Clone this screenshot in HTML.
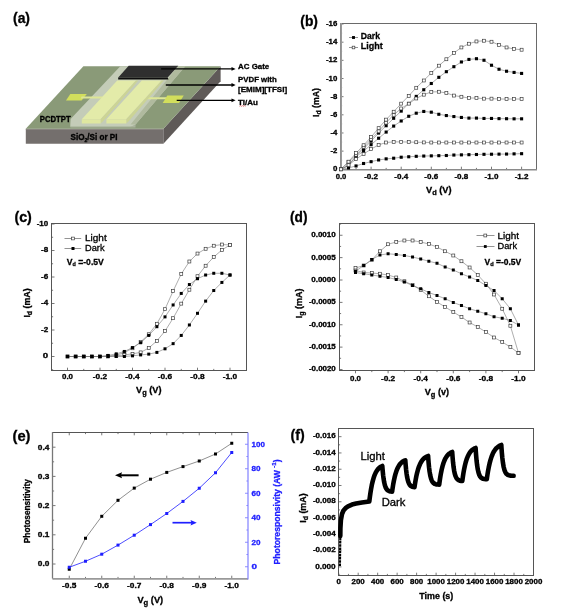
<!DOCTYPE html>
<html><head><meta charset="utf-8"><style>
html,body{margin:0;padding:0;background:#fff;}
text{stroke-width:0.3px;}
svg{display:block;font-family:"Liberation Sans",sans-serif;will-change:transform;}
</style></head><body>
<svg width="576" height="613" viewBox="0 0 576 613">
<rect width="576" height="613" fill="#fff"/>
<text x="13" y="22.8" font-size="14.2" font-weight="bold" fill="#000" stroke="#000" text-anchor="start" textLength="17" lengthAdjust="spacingAndGlyphs" >(a)</text>
<text x="300.3" y="26.2" font-size="14.2" font-weight="bold" fill="#000" stroke="#000" text-anchor="start" textLength="17.7" lengthAdjust="spacingAndGlyphs" >(b)</text>
<text x="14.4" y="222.2" font-size="14.2" font-weight="bold" fill="#000" stroke="#000" text-anchor="start" textLength="17.4" lengthAdjust="spacingAndGlyphs" >(c)</text>
<text x="290" y="221.7" font-size="14.2" font-weight="bold" fill="#000" stroke="#000" text-anchor="start" textLength="17.5" lengthAdjust="spacingAndGlyphs" >(d)</text>
<text x="12.5" y="440.5" font-size="14.2" font-weight="bold" fill="#000" stroke="#000" text-anchor="start" textLength="18" lengthAdjust="spacingAndGlyphs" >(e)</text>
<text x="290.5" y="440" font-size="14.2" font-weight="bold" fill="#000" stroke="#000" text-anchor="start" textLength="14.2" lengthAdjust="spacingAndGlyphs" >(f)</text>
<polygon points="25.8,128.75 163.4,128.75 163.4,143.75 25.8,143.75" fill="#746f6d" stroke="none" stroke-width="0" />
<polygon points="220.6,66.25 220.6,81.25 163.4,143.75 163.4,128.75" fill="#5f5a58" stroke="none" stroke-width="0" />
<line x1="25.8" y1="129.2" x2="163.4" y2="129.2" stroke="#9a9590" stroke-width="0.8" />
<polygon points="83.4,66.25 220.6,66.25 163.4,128.75 25.8,128.75" fill="#8a9a78" stroke="none" stroke-width="0" />
<polygon points="120.3,66.25 185.3,66.25 135.5,124.5 132.5,126.8 70.2,126.8 70.6,118.9" fill="#c4ccb8" stroke="none" stroke-width="0" />
<polygon points="178,66.25 185.3,66.25 135.5,124.5 130.5,124.5" fill="#b0ba9e" stroke="none" stroke-width="0" />
<polygon points="70.4,126.8 130.5,126.8 135.5,124.5 135.5,127.6 70.4,127.6" fill="#a9b29c" stroke="none" stroke-width="0" />
<polygon points="70.3,94 86.8,94 81.6,100.5 66,100.5" fill="#d2de5c" stroke="none" stroke-width="0" />
<polygon points="81.6,96.6 103,96.6 102,98.6 80.6,98.6" fill="#dde696" stroke="none" stroke-width="0" />
<polygon points="144,97.3 167.8,97.3 167,99.3 143,99.3" fill="#dde696" stroke="none" stroke-width="0" />
<polygon points="167.3,95.6 183.75,95.6 179,103 162.7,103" fill="#d2de5c" stroke="none" stroke-width="0" />
<polygon points="81.8,119.3 100.6,119.3 136,80.4 117.2,80.4" fill="#e3eba9" stroke="none" stroke-width="0" />
<polygon points="100.6,119.3 136,80.4 138.2,80.4 102.8,121.5 100.6,123.5" fill="#ccd495" stroke="none" stroke-width="0" />
<polygon points="81.8,119.3 100.6,119.3 100.6,123.5 81.8,123.5" fill="#dfe7a0" stroke="none" stroke-width="0" />
<polygon points="106.4,119.3 126.25,119.3 161.65,80.4 141.8,80.4" fill="#e3eba9" stroke="none" stroke-width="0" />
<polygon points="126.25,119.3 161.65,80.4 163.85,80.4 128.45,121.5 126.25,123.5" fill="#ccd495" stroke="none" stroke-width="0" />
<polygon points="106.4,119.3 126.25,119.3 126.25,123.5 106.4,123.5" fill="#dfe7a0" stroke="none" stroke-width="0" />
<polygon points="128.7,65.8 178.3,65.8 167.7,77.6 118.2,77.6" fill="#2f2f2f" stroke="none" stroke-width="0" />
<polygon points="118.2,77.6 167.7,77.6 168.5,79.6 118.2,79.6" fill="#0d0d0d" stroke="none" stroke-width="0" />
<text x="39.8" y="122" font-size="9.6" font-weight="bold" fill="#000" stroke="#000" text-anchor="start" textLength="30.8" lengthAdjust="spacingAndGlyphs" style="stroke-width:0.35px">PCDTPT</text>
<text x="70.6" y="140.1" font-size="9.6" font-weight="bold" fill="#000" stroke="#000" style="stroke-width:0.35px" textLength="46.9" lengthAdjust="spacingAndGlyphs">SiO<tspan font-size="6" dy="2">2</tspan><tspan dy="-2">/Si or PI</tspan></text>
<line x1="161.1" y1="68.9" x2="232" y2="68.9" stroke="#000" stroke-width="1.3" />
<polygon points="235.6,68.9 231.5,67 231.5,70.8" fill="#000" stroke="none" stroke-width="0" />
<line x1="165.8" y1="85" x2="232" y2="85" stroke="#000" stroke-width="1.3" />
<polygon points="235.6,85 231.5,83.1 231.5,86.9" fill="#000" stroke="none" stroke-width="0" />
<line x1="176.7" y1="100.3" x2="232" y2="100.3" stroke="#000" stroke-width="1.3" />
<polygon points="235.6,100.3 231.5,98.4 231.5,102.2" fill="#000" stroke="none" stroke-width="0" />
<text x="238.1" y="69.3" font-size="7.6" font-weight="bold" fill="#000" stroke="#000" text-anchor="start" textLength="31.1" lengthAdjust="spacingAndGlyphs" style="stroke-width:0.3px">AC Gate</text>
<text x="238.1" y="82.3" font-size="7.6" font-weight="bold" fill="#000" stroke="#000" text-anchor="start" textLength="38.6" lengthAdjust="spacingAndGlyphs" style="stroke-width:0.3px">PVDF with</text>
<text x="238.1" y="92.1" font-size="7.6" font-weight="bold" fill="#000" stroke="#000" text-anchor="start" textLength="49" lengthAdjust="spacingAndGlyphs" style="stroke-width:0.3px">[EMIM][TFSI]</text>
<text x="238.1" y="105.2" font-size="7.6" font-weight="bold" fill="#000" stroke="#000" text-anchor="start" textLength="19.9" lengthAdjust="spacingAndGlyphs" style="stroke-width:0.3px">Ti/Au</text>
<path d="M239.5,106.4 l1,-0.8 l1,0.8 l1,-0.8 l1,0.8 l1,-0.8 l1,0.8" fill="none" stroke="#e04040" stroke-width="0.6"/>
<line x1="341" y1="169.5" x2="341" y2="166.7" stroke="#555" stroke-width="0.8" />
<line x1="356.05" y1="169.5" x2="356.05" y2="167.9" stroke="#555" stroke-width="0.8" />
<line x1="371.1" y1="169.5" x2="371.1" y2="166.7" stroke="#555" stroke-width="0.8" />
<line x1="386.15" y1="169.5" x2="386.15" y2="167.9" stroke="#555" stroke-width="0.8" />
<line x1="401.2" y1="169.5" x2="401.2" y2="166.7" stroke="#555" stroke-width="0.8" />
<line x1="416.25" y1="169.5" x2="416.25" y2="167.9" stroke="#555" stroke-width="0.8" />
<line x1="431.3" y1="169.5" x2="431.3" y2="166.7" stroke="#555" stroke-width="0.8" />
<line x1="446.35" y1="169.5" x2="446.35" y2="167.9" stroke="#555" stroke-width="0.8" />
<line x1="461.4" y1="169.5" x2="461.4" y2="166.7" stroke="#555" stroke-width="0.8" />
<line x1="476.45" y1="169.5" x2="476.45" y2="167.9" stroke="#555" stroke-width="0.8" />
<line x1="491.5" y1="169.5" x2="491.5" y2="166.7" stroke="#555" stroke-width="0.8" />
<line x1="506.55" y1="169.5" x2="506.55" y2="167.9" stroke="#555" stroke-width="0.8" />
<line x1="521.6" y1="169.5" x2="521.6" y2="166.7" stroke="#555" stroke-width="0.8" />
<line x1="340.5" y1="169.3" x2="343.5" y2="169.3" stroke="#555" stroke-width="0.8" />
<line x1="340.5" y1="160.22" x2="342.1" y2="160.22" stroke="#555" stroke-width="0.8" />
<line x1="340.5" y1="151.14" x2="343.5" y2="151.14" stroke="#555" stroke-width="0.8" />
<line x1="340.5" y1="142.06" x2="342.1" y2="142.06" stroke="#555" stroke-width="0.8" />
<line x1="340.5" y1="132.98" x2="343.5" y2="132.98" stroke="#555" stroke-width="0.8" />
<line x1="340.5" y1="123.9" x2="342.1" y2="123.9" stroke="#555" stroke-width="0.8" />
<line x1="340.5" y1="114.82" x2="343.5" y2="114.82" stroke="#555" stroke-width="0.8" />
<line x1="340.5" y1="105.74" x2="342.1" y2="105.74" stroke="#555" stroke-width="0.8" />
<line x1="340.5" y1="96.66" x2="343.5" y2="96.66" stroke="#555" stroke-width="0.8" />
<line x1="340.5" y1="87.58" x2="342.1" y2="87.58" stroke="#555" stroke-width="0.8" />
<line x1="340.5" y1="78.5" x2="343.5" y2="78.5" stroke="#555" stroke-width="0.8" />
<line x1="340.5" y1="69.42" x2="342.1" y2="69.42" stroke="#555" stroke-width="0.8" />
<line x1="340.5" y1="60.34" x2="343.5" y2="60.34" stroke="#555" stroke-width="0.8" />
<line x1="340.5" y1="51.26" x2="342.1" y2="51.26" stroke="#555" stroke-width="0.8" />
<line x1="340.5" y1="42.18" x2="343.5" y2="42.18" stroke="#555" stroke-width="0.8" />
<line x1="340.5" y1="33.1" x2="342.1" y2="33.1" stroke="#555" stroke-width="0.8" />
<line x1="340.5" y1="24.02" x2="343.5" y2="24.02" stroke="#555" stroke-width="0.8" />
<rect x="340.5" y="23.5" width="196" height="146" fill="none" stroke="#6a6a6a" stroke-width="1"/>
<line x1="341.1" y1="23" x2="341.1" y2="170.2" stroke="#9a9a9a" stroke-width="1.8" />
<line x1="340.2" y1="169.8" x2="537" y2="169.8" stroke="#8a8a8a" stroke-width="1.5" />
<text x="341" y="178.6" font-size="7" font-weight="bold" fill="#000" stroke="#000" text-anchor="middle" textLength="10.6" lengthAdjust="spacingAndGlyphs" >0.0</text>
<text x="371.1" y="178.6" font-size="7" font-weight="bold" fill="#000" stroke="#000" text-anchor="middle" textLength="13.9" lengthAdjust="spacingAndGlyphs" >-0.2</text>
<text x="401.2" y="178.6" font-size="7" font-weight="bold" fill="#000" stroke="#000" text-anchor="middle" textLength="13.9" lengthAdjust="spacingAndGlyphs" >-0.4</text>
<text x="431.3" y="178.6" font-size="7" font-weight="bold" fill="#000" stroke="#000" text-anchor="middle" textLength="13.9" lengthAdjust="spacingAndGlyphs" >-0.6</text>
<text x="461.4" y="178.6" font-size="7" font-weight="bold" fill="#000" stroke="#000" text-anchor="middle" textLength="13.9" lengthAdjust="spacingAndGlyphs" >-0.8</text>
<text x="491.5" y="178.6" font-size="7" font-weight="bold" fill="#000" stroke="#000" text-anchor="middle" textLength="13.9" lengthAdjust="spacingAndGlyphs" >-1.0</text>
<text x="521.6" y="178.6" font-size="7" font-weight="bold" fill="#000" stroke="#000" text-anchor="middle" textLength="13.9" lengthAdjust="spacingAndGlyphs" >-1.2</text>
<text x="337.3" y="171.3" font-size="7" font-weight="bold" fill="#000" stroke="#000" text-anchor="end" textLength="4.4" lengthAdjust="spacingAndGlyphs" >0</text>
<text x="337.3" y="153.14" font-size="7" font-weight="bold" fill="#000" stroke="#000" text-anchor="end" textLength="6.9" lengthAdjust="spacingAndGlyphs" >-2</text>
<text x="337.3" y="134.98" font-size="7" font-weight="bold" fill="#000" stroke="#000" text-anchor="end" textLength="6.9" lengthAdjust="spacingAndGlyphs" >-4</text>
<text x="337.3" y="116.82" font-size="7" font-weight="bold" fill="#000" stroke="#000" text-anchor="end" textLength="6.9" lengthAdjust="spacingAndGlyphs" >-6</text>
<text x="337.3" y="98.66" font-size="7" font-weight="bold" fill="#000" stroke="#000" text-anchor="end" textLength="6.9" lengthAdjust="spacingAndGlyphs" >-8</text>
<text x="337.3" y="80.5" font-size="7" font-weight="bold" fill="#000" stroke="#000" text-anchor="end" textLength="11.3" lengthAdjust="spacingAndGlyphs" >-10</text>
<text x="337.3" y="62.34" font-size="7" font-weight="bold" fill="#000" stroke="#000" text-anchor="end" textLength="11.3" lengthAdjust="spacingAndGlyphs" >-12</text>
<text x="337.3" y="44.18" font-size="7" font-weight="bold" fill="#000" stroke="#000" text-anchor="end" textLength="11.3" lengthAdjust="spacingAndGlyphs" >-14</text>
<text x="337.3" y="26.02" font-size="7" font-weight="bold" fill="#000" stroke="#000" text-anchor="end" textLength="11.3" lengthAdjust="spacingAndGlyphs" >-16</text>
<text transform="translate(318.6,117) rotate(-90)" font-size="9.4" font-weight="bold" stroke="#000" textLength="29" lengthAdjust="spacingAndGlyphs">I<tspan font-size="7.4" dy="2.2">d</tspan><tspan dy="-2.2"> (mA)</tspan></text>
<text x="426" y="193.1" font-size="9.5" font-weight="bold" stroke="#000" textLength="25.6" lengthAdjust="spacingAndGlyphs">V<tspan font-size="7.6" dy="2.2">d</tspan><tspan dy="-2.2"> (V)</tspan></text>
<polyline points="341,169.3 348.52,165.21 356.05,159.13 363.57,154.05 371.1,149.14 378.62,144.87 386.15,142.51 393.68,141.88 401.2,141.88 408.73,142.06 416.25,142.24 423.77,142.42 431.3,142.51 438.82,142.51 446.35,142.51 453.88,142.51 461.4,142.51 468.93,142.51 476.45,142.51 483.98,142.51 491.5,142.51 499.02,142.51 506.55,142.51 514.08,142.51 521.6,142.51" fill="none" stroke="#777" stroke-width="0.6" />
<polyline points="341,169.3 348.52,167.94 356.05,165.94 363.57,163.49 371.1,161.67 378.62,159.95 386.15,158.86 393.68,158.22 401.2,157.22 408.73,156.77 416.25,156.32 423.77,156.04 431.3,155.86 438.82,155.68 446.35,155.5 453.88,155.04 461.4,154.86 468.93,154.68 476.45,154.5 483.98,154.32 491.5,154.23 499.02,154.14 506.55,154.05 514.08,153.86 521.6,153.68" fill="none" stroke="#777" stroke-width="0.6" />
<polyline points="341,169.3 348.52,162.04 356.05,154.77 363.57,147.05 371.1,139.34 378.62,131.35 386.15,122.63 393.68,114.82 401.2,108.46 408.73,103.65 416.25,98.48 423.77,94.66 431.3,91.94 438.82,91.76 446.35,92.94 453.88,95.57 461.4,96.75 468.93,98.02 476.45,98.02 483.98,98.66 491.5,98.66 499.02,99.02 506.55,99.02 514.08,99.02 521.6,99.02" fill="none" stroke="#777" stroke-width="0.6" />
<polyline points="341,169.3 348.52,165.49 356.05,156.5 363.57,151.14 371.1,144.69 378.62,138.25 386.15,132.07 393.68,126.08 401.2,120.99 408.73,116.27 416.25,113.19 423.77,111.46 431.3,112.19 438.82,114.28 446.35,115.55 453.88,116.55 461.4,117.45 468.93,118.09 476.45,118.09 483.98,118.45 491.5,118.45 499.02,118.63 506.55,118.72 514.08,118.82 521.6,118.82" fill="none" stroke="#777" stroke-width="0.6" />
<polyline points="341,169.3 348.52,161.67 356.05,153.14 363.57,145.24 371.1,137.07 378.62,128.17 386.15,119.63 393.68,111.73 401.2,103.65 408.73,95.84 416.25,87.76 423.77,80.5 431.3,72.96 438.82,65.7 446.35,59.25 453.88,52.99 461.4,47.45 468.93,43.72 476.45,41.45 483.98,40.73 491.5,41.73 499.02,44.99 506.55,47.45 514.08,48.99 521.6,49.72" fill="none" stroke="#777" stroke-width="0.6" />
<polyline points="341,169.3 348.52,165.21 356.05,155.68 363.57,148.96 371.1,141.15 378.62,133.07 386.15,125.72 393.68,118.27 401.2,111.1 408.73,103.47 416.25,96.39 423.77,89.76 431.3,83.49 438.82,77.32 446.35,71.69 453.88,66.7 461.4,61.97 468.93,59.43 476.45,58.71 483.98,60.25 491.5,65.24 499.02,69.24 506.55,71.24 514.08,72.42 521.6,73.42" fill="none" stroke="#777" stroke-width="0.6" />
<rect x="339.45" y="167.75" width="3.1" height="3.1" fill="#000"/>
<rect x="346.97" y="166.39" width="3.1" height="3.1" fill="#000"/>
<rect x="354.5" y="164.39" width="3.1" height="3.1" fill="#000"/>
<rect x="362.02" y="161.94" width="3.1" height="3.1" fill="#000"/>
<rect x="369.55" y="160.12" width="3.1" height="3.1" fill="#000"/>
<rect x="377.07" y="158.4" width="3.1" height="3.1" fill="#000"/>
<rect x="384.6" y="157.31" width="3.1" height="3.1" fill="#000"/>
<rect x="392.12" y="156.67" width="3.1" height="3.1" fill="#000"/>
<rect x="399.65" y="155.67" width="3.1" height="3.1" fill="#000"/>
<rect x="407.18" y="155.22" width="3.1" height="3.1" fill="#000"/>
<rect x="414.7" y="154.77" width="3.1" height="3.1" fill="#000"/>
<rect x="422.22" y="154.49" width="3.1" height="3.1" fill="#000"/>
<rect x="429.75" y="154.31" width="3.1" height="3.1" fill="#000"/>
<rect x="437.27" y="154.13" width="3.1" height="3.1" fill="#000"/>
<rect x="444.8" y="153.95" width="3.1" height="3.1" fill="#000"/>
<rect x="452.32" y="153.49" width="3.1" height="3.1" fill="#000"/>
<rect x="459.85" y="153.31" width="3.1" height="3.1" fill="#000"/>
<rect x="467.38" y="153.13" width="3.1" height="3.1" fill="#000"/>
<rect x="474.9" y="152.95" width="3.1" height="3.1" fill="#000"/>
<rect x="482.43" y="152.77" width="3.1" height="3.1" fill="#000"/>
<rect x="489.95" y="152.68" width="3.1" height="3.1" fill="#000"/>
<rect x="497.47" y="152.59" width="3.1" height="3.1" fill="#000"/>
<rect x="505" y="152.5" width="3.1" height="3.1" fill="#000"/>
<rect x="512.53" y="152.31" width="3.1" height="3.1" fill="#000"/>
<rect x="520.05" y="152.13" width="3.1" height="3.1" fill="#000"/>
<rect x="339.45" y="167.75" width="3.1" height="3.1" fill="#000"/>
<rect x="346.97" y="163.94" width="3.1" height="3.1" fill="#000"/>
<rect x="354.5" y="154.95" width="3.1" height="3.1" fill="#000"/>
<rect x="362.02" y="149.59" width="3.1" height="3.1" fill="#000"/>
<rect x="369.55" y="143.14" width="3.1" height="3.1" fill="#000"/>
<rect x="377.07" y="136.7" width="3.1" height="3.1" fill="#000"/>
<rect x="384.6" y="130.52" width="3.1" height="3.1" fill="#000"/>
<rect x="392.12" y="124.53" width="3.1" height="3.1" fill="#000"/>
<rect x="399.65" y="119.44" width="3.1" height="3.1" fill="#000"/>
<rect x="407.18" y="114.72" width="3.1" height="3.1" fill="#000"/>
<rect x="414.7" y="111.64" width="3.1" height="3.1" fill="#000"/>
<rect x="422.22" y="109.91" width="3.1" height="3.1" fill="#000"/>
<rect x="429.75" y="110.64" width="3.1" height="3.1" fill="#000"/>
<rect x="437.27" y="112.73" width="3.1" height="3.1" fill="#000"/>
<rect x="444.8" y="114" width="3.1" height="3.1" fill="#000"/>
<rect x="452.32" y="115" width="3.1" height="3.1" fill="#000"/>
<rect x="459.85" y="115.9" width="3.1" height="3.1" fill="#000"/>
<rect x="467.38" y="116.54" width="3.1" height="3.1" fill="#000"/>
<rect x="474.9" y="116.54" width="3.1" height="3.1" fill="#000"/>
<rect x="482.43" y="116.9" width="3.1" height="3.1" fill="#000"/>
<rect x="489.95" y="116.9" width="3.1" height="3.1" fill="#000"/>
<rect x="497.47" y="117.08" width="3.1" height="3.1" fill="#000"/>
<rect x="505" y="117.17" width="3.1" height="3.1" fill="#000"/>
<rect x="512.53" y="117.27" width="3.1" height="3.1" fill="#000"/>
<rect x="520.05" y="117.27" width="3.1" height="3.1" fill="#000"/>
<rect x="339.45" y="167.75" width="3.1" height="3.1" fill="#000"/>
<rect x="346.97" y="163.66" width="3.1" height="3.1" fill="#000"/>
<rect x="354.5" y="154.13" width="3.1" height="3.1" fill="#000"/>
<rect x="362.02" y="147.41" width="3.1" height="3.1" fill="#000"/>
<rect x="369.55" y="139.6" width="3.1" height="3.1" fill="#000"/>
<rect x="377.07" y="131.52" width="3.1" height="3.1" fill="#000"/>
<rect x="384.6" y="124.17" width="3.1" height="3.1" fill="#000"/>
<rect x="392.12" y="116.72" width="3.1" height="3.1" fill="#000"/>
<rect x="399.65" y="109.55" width="3.1" height="3.1" fill="#000"/>
<rect x="407.18" y="101.92" width="3.1" height="3.1" fill="#000"/>
<rect x="414.7" y="94.84" width="3.1" height="3.1" fill="#000"/>
<rect x="422.22" y="88.21" width="3.1" height="3.1" fill="#000"/>
<rect x="429.75" y="81.94" width="3.1" height="3.1" fill="#000"/>
<rect x="437.27" y="75.77" width="3.1" height="3.1" fill="#000"/>
<rect x="444.8" y="70.14" width="3.1" height="3.1" fill="#000"/>
<rect x="452.32" y="65.15" width="3.1" height="3.1" fill="#000"/>
<rect x="459.85" y="60.42" width="3.1" height="3.1" fill="#000"/>
<rect x="467.38" y="57.88" width="3.1" height="3.1" fill="#000"/>
<rect x="474.9" y="57.16" width="3.1" height="3.1" fill="#000"/>
<rect x="482.43" y="58.7" width="3.1" height="3.1" fill="#000"/>
<rect x="489.95" y="63.69" width="3.1" height="3.1" fill="#000"/>
<rect x="497.47" y="67.69" width="3.1" height="3.1" fill="#000"/>
<rect x="505" y="69.69" width="3.1" height="3.1" fill="#000"/>
<rect x="512.53" y="70.87" width="3.1" height="3.1" fill="#000"/>
<rect x="520.05" y="71.87" width="3.1" height="3.1" fill="#000"/>
<rect x="339.52" y="167.82" width="2.95" height="2.95" fill="#fff" stroke="#333" stroke-width="0.65"/>
<rect x="347.05" y="163.74" width="2.95" height="2.95" fill="#fff" stroke="#333" stroke-width="0.65"/>
<rect x="354.57" y="157.66" width="2.95" height="2.95" fill="#fff" stroke="#333" stroke-width="0.65"/>
<rect x="362.1" y="152.57" width="2.95" height="2.95" fill="#fff" stroke="#333" stroke-width="0.65"/>
<rect x="369.62" y="147.67" width="2.95" height="2.95" fill="#fff" stroke="#333" stroke-width="0.65"/>
<rect x="377.15" y="143.4" width="2.95" height="2.95" fill="#fff" stroke="#333" stroke-width="0.65"/>
<rect x="384.67" y="141.04" width="2.95" height="2.95" fill="#fff" stroke="#333" stroke-width="0.65"/>
<rect x="392.2" y="140.4" width="2.95" height="2.95" fill="#fff" stroke="#333" stroke-width="0.65"/>
<rect x="399.72" y="140.4" width="2.95" height="2.95" fill="#fff" stroke="#333" stroke-width="0.65"/>
<rect x="407.25" y="140.58" width="2.95" height="2.95" fill="#fff" stroke="#333" stroke-width="0.65"/>
<rect x="414.77" y="140.77" width="2.95" height="2.95" fill="#fff" stroke="#333" stroke-width="0.65"/>
<rect x="422.3" y="140.95" width="2.95" height="2.95" fill="#fff" stroke="#333" stroke-width="0.65"/>
<rect x="429.82" y="141.04" width="2.95" height="2.95" fill="#fff" stroke="#333" stroke-width="0.65"/>
<rect x="437.35" y="141.04" width="2.95" height="2.95" fill="#fff" stroke="#333" stroke-width="0.65"/>
<rect x="444.88" y="141.04" width="2.95" height="2.95" fill="#fff" stroke="#333" stroke-width="0.65"/>
<rect x="452.4" y="141.04" width="2.95" height="2.95" fill="#fff" stroke="#333" stroke-width="0.65"/>
<rect x="459.92" y="141.04" width="2.95" height="2.95" fill="#fff" stroke="#333" stroke-width="0.65"/>
<rect x="467.45" y="141.04" width="2.95" height="2.95" fill="#fff" stroke="#333" stroke-width="0.65"/>
<rect x="474.98" y="141.04" width="2.95" height="2.95" fill="#fff" stroke="#333" stroke-width="0.65"/>
<rect x="482.5" y="141.04" width="2.95" height="2.95" fill="#fff" stroke="#333" stroke-width="0.65"/>
<rect x="490.02" y="141.04" width="2.95" height="2.95" fill="#fff" stroke="#333" stroke-width="0.65"/>
<rect x="497.55" y="141.04" width="2.95" height="2.95" fill="#fff" stroke="#333" stroke-width="0.65"/>
<rect x="505.07" y="141.04" width="2.95" height="2.95" fill="#fff" stroke="#333" stroke-width="0.65"/>
<rect x="512.6" y="141.04" width="2.95" height="2.95" fill="#fff" stroke="#333" stroke-width="0.65"/>
<rect x="520.13" y="141.04" width="2.95" height="2.95" fill="#fff" stroke="#333" stroke-width="0.65"/>
<rect x="339.52" y="167.82" width="2.95" height="2.95" fill="#fff" stroke="#333" stroke-width="0.65"/>
<rect x="347.05" y="160.56" width="2.95" height="2.95" fill="#fff" stroke="#333" stroke-width="0.65"/>
<rect x="354.57" y="153.3" width="2.95" height="2.95" fill="#fff" stroke="#333" stroke-width="0.65"/>
<rect x="362.1" y="145.58" width="2.95" height="2.95" fill="#fff" stroke="#333" stroke-width="0.65"/>
<rect x="369.62" y="137.86" width="2.95" height="2.95" fill="#fff" stroke="#333" stroke-width="0.65"/>
<rect x="377.15" y="129.87" width="2.95" height="2.95" fill="#fff" stroke="#333" stroke-width="0.65"/>
<rect x="384.67" y="121.15" width="2.95" height="2.95" fill="#fff" stroke="#333" stroke-width="0.65"/>
<rect x="392.2" y="113.35" width="2.95" height="2.95" fill="#fff" stroke="#333" stroke-width="0.65"/>
<rect x="399.72" y="106.99" width="2.95" height="2.95" fill="#fff" stroke="#333" stroke-width="0.65"/>
<rect x="407.25" y="102.18" width="2.95" height="2.95" fill="#fff" stroke="#333" stroke-width="0.65"/>
<rect x="414.77" y="97" width="2.95" height="2.95" fill="#fff" stroke="#333" stroke-width="0.65"/>
<rect x="422.3" y="93.19" width="2.95" height="2.95" fill="#fff" stroke="#333" stroke-width="0.65"/>
<rect x="429.82" y="90.46" width="2.95" height="2.95" fill="#fff" stroke="#333" stroke-width="0.65"/>
<rect x="437.35" y="90.28" width="2.95" height="2.95" fill="#fff" stroke="#333" stroke-width="0.65"/>
<rect x="444.88" y="91.46" width="2.95" height="2.95" fill="#fff" stroke="#333" stroke-width="0.65"/>
<rect x="452.4" y="94.1" width="2.95" height="2.95" fill="#fff" stroke="#333" stroke-width="0.65"/>
<rect x="459.92" y="95.28" width="2.95" height="2.95" fill="#fff" stroke="#333" stroke-width="0.65"/>
<rect x="467.45" y="96.55" width="2.95" height="2.95" fill="#fff" stroke="#333" stroke-width="0.65"/>
<rect x="474.98" y="96.55" width="2.95" height="2.95" fill="#fff" stroke="#333" stroke-width="0.65"/>
<rect x="482.5" y="97.18" width="2.95" height="2.95" fill="#fff" stroke="#333" stroke-width="0.65"/>
<rect x="490.02" y="97.18" width="2.95" height="2.95" fill="#fff" stroke="#333" stroke-width="0.65"/>
<rect x="497.55" y="97.55" width="2.95" height="2.95" fill="#fff" stroke="#333" stroke-width="0.65"/>
<rect x="505.07" y="97.55" width="2.95" height="2.95" fill="#fff" stroke="#333" stroke-width="0.65"/>
<rect x="512.6" y="97.55" width="2.95" height="2.95" fill="#fff" stroke="#333" stroke-width="0.65"/>
<rect x="520.13" y="97.55" width="2.95" height="2.95" fill="#fff" stroke="#333" stroke-width="0.65"/>
<rect x="339.52" y="167.82" width="2.95" height="2.95" fill="#fff" stroke="#333" stroke-width="0.65"/>
<rect x="347.05" y="160.2" width="2.95" height="2.95" fill="#fff" stroke="#333" stroke-width="0.65"/>
<rect x="354.57" y="151.66" width="2.95" height="2.95" fill="#fff" stroke="#333" stroke-width="0.65"/>
<rect x="362.1" y="143.76" width="2.95" height="2.95" fill="#fff" stroke="#333" stroke-width="0.65"/>
<rect x="369.62" y="135.59" width="2.95" height="2.95" fill="#fff" stroke="#333" stroke-width="0.65"/>
<rect x="377.15" y="126.69" width="2.95" height="2.95" fill="#fff" stroke="#333" stroke-width="0.65"/>
<rect x="384.67" y="118.16" width="2.95" height="2.95" fill="#fff" stroke="#333" stroke-width="0.65"/>
<rect x="392.2" y="110.26" width="2.95" height="2.95" fill="#fff" stroke="#333" stroke-width="0.65"/>
<rect x="399.72" y="102.18" width="2.95" height="2.95" fill="#fff" stroke="#333" stroke-width="0.65"/>
<rect x="407.25" y="94.37" width="2.95" height="2.95" fill="#fff" stroke="#333" stroke-width="0.65"/>
<rect x="414.77" y="86.29" width="2.95" height="2.95" fill="#fff" stroke="#333" stroke-width="0.65"/>
<rect x="422.3" y="79.02" width="2.95" height="2.95" fill="#fff" stroke="#333" stroke-width="0.65"/>
<rect x="429.82" y="71.49" width="2.95" height="2.95" fill="#fff" stroke="#333" stroke-width="0.65"/>
<rect x="437.35" y="64.22" width="2.95" height="2.95" fill="#fff" stroke="#333" stroke-width="0.65"/>
<rect x="444.88" y="57.78" width="2.95" height="2.95" fill="#fff" stroke="#333" stroke-width="0.65"/>
<rect x="452.4" y="51.51" width="2.95" height="2.95" fill="#fff" stroke="#333" stroke-width="0.65"/>
<rect x="459.92" y="45.97" width="2.95" height="2.95" fill="#fff" stroke="#333" stroke-width="0.65"/>
<rect x="467.45" y="42.25" width="2.95" height="2.95" fill="#fff" stroke="#333" stroke-width="0.65"/>
<rect x="474.98" y="39.98" width="2.95" height="2.95" fill="#fff" stroke="#333" stroke-width="0.65"/>
<rect x="482.5" y="39.25" width="2.95" height="2.95" fill="#fff" stroke="#333" stroke-width="0.65"/>
<rect x="490.02" y="40.25" width="2.95" height="2.95" fill="#fff" stroke="#333" stroke-width="0.65"/>
<rect x="497.55" y="43.52" width="2.95" height="2.95" fill="#fff" stroke="#333" stroke-width="0.65"/>
<rect x="505.07" y="45.97" width="2.95" height="2.95" fill="#fff" stroke="#333" stroke-width="0.65"/>
<rect x="512.6" y="47.52" width="2.95" height="2.95" fill="#fff" stroke="#333" stroke-width="0.65"/>
<rect x="520.13" y="48.24" width="2.95" height="2.95" fill="#fff" stroke="#333" stroke-width="0.65"/>
<line x1="349" y1="37.5" x2="358" y2="37.5" stroke="#666" stroke-width="0.7" />
<rect x="352.05" y="36.05" width="2.9" height="2.9" fill="#000"/>
<line x1="349" y1="47.5" x2="358" y2="47.5" stroke="#666" stroke-width="0.7" />
<rect x="352.18" y="46.18" width="2.65" height="2.65" fill="#fff" stroke="#333" stroke-width="0.65"/>
<text x="360.8" y="39.2" font-size="9.8" font-weight="bold" fill="#000" stroke="#000" text-anchor="start" textLength="19.2" lengthAdjust="spacingAndGlyphs" >Dark</text>
<text x="360.8" y="49" font-size="9.8" font-weight="bold" fill="#000" stroke="#000" text-anchor="start" textLength="22" lengthAdjust="spacingAndGlyphs" >Light</text>
<line x1="67.5" y1="370.5" x2="67.5" y2="367.7" stroke="#555" stroke-width="0.8" />
<line x1="83.75" y1="370.5" x2="83.75" y2="368.9" stroke="#555" stroke-width="0.8" />
<line x1="100" y1="370.5" x2="100" y2="367.7" stroke="#555" stroke-width="0.8" />
<line x1="116.25" y1="370.5" x2="116.25" y2="368.9" stroke="#555" stroke-width="0.8" />
<line x1="132.5" y1="370.5" x2="132.5" y2="367.7" stroke="#555" stroke-width="0.8" />
<line x1="148.75" y1="370.5" x2="148.75" y2="368.9" stroke="#555" stroke-width="0.8" />
<line x1="165" y1="370.5" x2="165" y2="367.7" stroke="#555" stroke-width="0.8" />
<line x1="181.25" y1="370.5" x2="181.25" y2="368.9" stroke="#555" stroke-width="0.8" />
<line x1="197.5" y1="370.5" x2="197.5" y2="367.7" stroke="#555" stroke-width="0.8" />
<line x1="213.75" y1="370.5" x2="213.75" y2="368.9" stroke="#555" stroke-width="0.8" />
<line x1="230" y1="370.5" x2="230" y2="367.7" stroke="#555" stroke-width="0.8" />
<line x1="51.5" y1="369.75" x2="53.1" y2="369.75" stroke="#555" stroke-width="0.8" />
<line x1="51.5" y1="356.5" x2="54.5" y2="356.5" stroke="#555" stroke-width="0.8" />
<line x1="51.5" y1="343.25" x2="53.1" y2="343.25" stroke="#555" stroke-width="0.8" />
<line x1="51.5" y1="330" x2="54.5" y2="330" stroke="#555" stroke-width="0.8" />
<line x1="51.5" y1="316.75" x2="53.1" y2="316.75" stroke="#555" stroke-width="0.8" />
<line x1="51.5" y1="303.5" x2="54.5" y2="303.5" stroke="#555" stroke-width="0.8" />
<line x1="51.5" y1="290.25" x2="53.1" y2="290.25" stroke="#555" stroke-width="0.8" />
<line x1="51.5" y1="277" x2="54.5" y2="277" stroke="#555" stroke-width="0.8" />
<line x1="51.5" y1="263.75" x2="53.1" y2="263.75" stroke="#555" stroke-width="0.8" />
<line x1="51.5" y1="250.5" x2="54.5" y2="250.5" stroke="#555" stroke-width="0.8" />
<line x1="51.5" y1="237.25" x2="53.1" y2="237.25" stroke="#555" stroke-width="0.8" />
<line x1="51.5" y1="224" x2="54.5" y2="224" stroke="#555" stroke-width="0.8" />
<rect x="51.5" y="223.5" width="195" height="147" fill="none" stroke="#555" stroke-width="1"/>
<text x="67.5" y="378.9" font-size="7" font-weight="bold" fill="#000" stroke="#000" text-anchor="middle" textLength="11" lengthAdjust="spacingAndGlyphs" >0.0</text>
<text x="100" y="378.9" font-size="7" font-weight="bold" fill="#000" stroke="#000" text-anchor="middle" textLength="14.3" lengthAdjust="spacingAndGlyphs" >-0.2</text>
<text x="132.5" y="378.9" font-size="7" font-weight="bold" fill="#000" stroke="#000" text-anchor="middle" textLength="14.3" lengthAdjust="spacingAndGlyphs" >-0.4</text>
<text x="165" y="378.9" font-size="7" font-weight="bold" fill="#000" stroke="#000" text-anchor="middle" textLength="14.3" lengthAdjust="spacingAndGlyphs" >-0.6</text>
<text x="197.5" y="378.9" font-size="7" font-weight="bold" fill="#000" stroke="#000" text-anchor="middle" textLength="14.3" lengthAdjust="spacingAndGlyphs" >-0.8</text>
<text x="230" y="378.9" font-size="7" font-weight="bold" fill="#000" stroke="#000" text-anchor="middle" textLength="14.3" lengthAdjust="spacingAndGlyphs" >-1.0</text>
<text x="48.2" y="358" font-size="7" font-weight="bold" fill="#000" stroke="#000" text-anchor="end" textLength="5.4" lengthAdjust="spacingAndGlyphs" >0</text>
<text x="48.2" y="331.5" font-size="7" font-weight="bold" fill="#000" stroke="#000" text-anchor="end" textLength="7.2" lengthAdjust="spacingAndGlyphs" >-2</text>
<text x="48.2" y="305" font-size="7" font-weight="bold" fill="#000" stroke="#000" text-anchor="end" textLength="7.2" lengthAdjust="spacingAndGlyphs" >-4</text>
<text x="48.2" y="278.5" font-size="7" font-weight="bold" fill="#000" stroke="#000" text-anchor="end" textLength="7.2" lengthAdjust="spacingAndGlyphs" >-6</text>
<text x="48.2" y="252" font-size="7" font-weight="bold" fill="#000" stroke="#000" text-anchor="end" textLength="7.2" lengthAdjust="spacingAndGlyphs" >-8</text>
<text x="48.2" y="225.5" font-size="7" font-weight="bold" fill="#000" stroke="#000" text-anchor="end" textLength="11.5" lengthAdjust="spacingAndGlyphs" >-10</text>
<text transform="translate(29.6,317.6) rotate(-90)" font-size="9.4" font-weight="bold" stroke="#000" textLength="29.3" lengthAdjust="spacingAndGlyphs">I<tspan font-size="7.4" dy="2.2">d</tspan><tspan dy="-2.2"> (mA)</tspan></text>
<text x="136" y="392.7" font-size="9.5" font-weight="bold" stroke="#000" textLength="25.5" lengthAdjust="spacingAndGlyphs">V<tspan font-size="7.6" dy="2.2">g</tspan><tspan dy="-2.2"> (V)</tspan></text>
<polyline points="67.5,356.5 75.62,356.5 83.75,356.5 91.88,356.5 100,356.5 108.12,356.1 116.25,355.18 124.38,352.52 132.5,348.29 140.62,341.93 148.75,334.24 156.88,323.77 165,309.2 173.12,291.05 181.25,273.95 189.38,261.5 197.5,253.55 205.63,248.78 213.75,245.73 221.88,244.54 230,244.94" fill="none" stroke="#777" stroke-width="0.6" />
<polyline points="67.5,356.5 75.62,356.5 83.75,356.5 91.88,356.5 100,356.5 108.12,355.44 116.25,353.85 124.38,351.46 132.5,347.62 140.62,342.72 148.75,335.43 156.88,326.69 165,316.88 173.12,304.96 181.25,293.43 189.38,284.55 197.5,278.72 205.63,275.01 213.75,273.29 221.88,273.29 230,275.01" fill="none" stroke="#777" stroke-width="0.6" />
<polyline points="67.5,356.5 75.62,356.5 83.75,356.5 91.88,356.5 100,356.5 108.12,356.5 116.25,355.84 124.38,354.91 132.5,353.85 140.62,352.39 148.75,348.02 156.88,340.87 165,331.06 173.12,318.21 181.25,303.63 189.38,289.72 197.5,276.2 205.63,265.74 213.75,256.99 221.88,249.97 230,244.94" fill="none" stroke="#777" stroke-width="0.6" />
<polyline points="67.5,356.5 75.62,356.5 83.75,356.5 91.88,356.5 100,356.5 108.12,356.5 116.25,356.5 124.38,356.5 132.5,355.84 140.62,354.91 148.75,354.12 156.88,352.39 165,348.81 173.12,343.65 181.25,335.43 189.38,324.96 197.5,313.31 205.63,301.12 213.75,290.51 221.88,282.43 230,275.01" fill="none" stroke="#777" stroke-width="0.6" />
<rect x="66.03" y="355.02" width="2.95" height="2.95" fill="#fff" stroke="#333" stroke-width="0.65"/>
<rect x="74.15" y="355.02" width="2.95" height="2.95" fill="#fff" stroke="#333" stroke-width="0.65"/>
<rect x="82.28" y="355.02" width="2.95" height="2.95" fill="#fff" stroke="#333" stroke-width="0.65"/>
<rect x="90.4" y="355.02" width="2.95" height="2.95" fill="#fff" stroke="#333" stroke-width="0.65"/>
<rect x="98.53" y="355.02" width="2.95" height="2.95" fill="#fff" stroke="#333" stroke-width="0.65"/>
<rect x="106.65" y="354.63" width="2.95" height="2.95" fill="#fff" stroke="#333" stroke-width="0.65"/>
<rect x="114.78" y="353.7" width="2.95" height="2.95" fill="#fff" stroke="#333" stroke-width="0.65"/>
<rect x="122.9" y="351.05" width="2.95" height="2.95" fill="#fff" stroke="#333" stroke-width="0.65"/>
<rect x="131.02" y="346.81" width="2.95" height="2.95" fill="#fff" stroke="#333" stroke-width="0.65"/>
<rect x="139.15" y="340.45" width="2.95" height="2.95" fill="#fff" stroke="#333" stroke-width="0.65"/>
<rect x="147.27" y="332.76" width="2.95" height="2.95" fill="#fff" stroke="#333" stroke-width="0.65"/>
<rect x="155.4" y="322.3" width="2.95" height="2.95" fill="#fff" stroke="#333" stroke-width="0.65"/>
<rect x="163.52" y="307.72" width="2.95" height="2.95" fill="#fff" stroke="#333" stroke-width="0.65"/>
<rect x="171.65" y="289.57" width="2.95" height="2.95" fill="#fff" stroke="#333" stroke-width="0.65"/>
<rect x="179.77" y="272.48" width="2.95" height="2.95" fill="#fff" stroke="#333" stroke-width="0.65"/>
<rect x="187.9" y="260.02" width="2.95" height="2.95" fill="#fff" stroke="#333" stroke-width="0.65"/>
<rect x="196.02" y="252.07" width="2.95" height="2.95" fill="#fff" stroke="#333" stroke-width="0.65"/>
<rect x="204.15" y="247.3" width="2.95" height="2.95" fill="#fff" stroke="#333" stroke-width="0.65"/>
<rect x="212.27" y="244.25" width="2.95" height="2.95" fill="#fff" stroke="#333" stroke-width="0.65"/>
<rect x="220.4" y="243.06" width="2.95" height="2.95" fill="#fff" stroke="#333" stroke-width="0.65"/>
<rect x="228.52" y="243.46" width="2.95" height="2.95" fill="#fff" stroke="#333" stroke-width="0.65"/>
<rect x="66.03" y="355.02" width="2.95" height="2.95" fill="#fff" stroke="#333" stroke-width="0.65"/>
<rect x="74.15" y="355.02" width="2.95" height="2.95" fill="#fff" stroke="#333" stroke-width="0.65"/>
<rect x="82.28" y="355.02" width="2.95" height="2.95" fill="#fff" stroke="#333" stroke-width="0.65"/>
<rect x="90.4" y="355.02" width="2.95" height="2.95" fill="#fff" stroke="#333" stroke-width="0.65"/>
<rect x="98.53" y="355.02" width="2.95" height="2.95" fill="#fff" stroke="#333" stroke-width="0.65"/>
<rect x="106.65" y="355.02" width="2.95" height="2.95" fill="#fff" stroke="#333" stroke-width="0.65"/>
<rect x="114.78" y="354.36" width="2.95" height="2.95" fill="#fff" stroke="#333" stroke-width="0.65"/>
<rect x="122.9" y="353.44" width="2.95" height="2.95" fill="#fff" stroke="#333" stroke-width="0.65"/>
<rect x="131.02" y="352.38" width="2.95" height="2.95" fill="#fff" stroke="#333" stroke-width="0.65"/>
<rect x="139.15" y="350.92" width="2.95" height="2.95" fill="#fff" stroke="#333" stroke-width="0.65"/>
<rect x="147.27" y="346.54" width="2.95" height="2.95" fill="#fff" stroke="#333" stroke-width="0.65"/>
<rect x="155.4" y="339.39" width="2.95" height="2.95" fill="#fff" stroke="#333" stroke-width="0.65"/>
<rect x="163.52" y="329.58" width="2.95" height="2.95" fill="#fff" stroke="#333" stroke-width="0.65"/>
<rect x="171.65" y="316.73" width="2.95" height="2.95" fill="#fff" stroke="#333" stroke-width="0.65"/>
<rect x="179.77" y="302.16" width="2.95" height="2.95" fill="#fff" stroke="#333" stroke-width="0.65"/>
<rect x="187.9" y="288.25" width="2.95" height="2.95" fill="#fff" stroke="#333" stroke-width="0.65"/>
<rect x="196.02" y="274.73" width="2.95" height="2.95" fill="#fff" stroke="#333" stroke-width="0.65"/>
<rect x="204.15" y="264.26" width="2.95" height="2.95" fill="#fff" stroke="#333" stroke-width="0.65"/>
<rect x="212.27" y="255.52" width="2.95" height="2.95" fill="#fff" stroke="#333" stroke-width="0.65"/>
<rect x="220.4" y="248.5" width="2.95" height="2.95" fill="#fff" stroke="#333" stroke-width="0.65"/>
<rect x="228.52" y="243.46" width="2.95" height="2.95" fill="#fff" stroke="#333" stroke-width="0.65"/>
<rect x="66" y="355" width="3" height="3" fill="#000"/>
<rect x="74.12" y="355" width="3" height="3" fill="#000"/>
<rect x="82.25" y="355" width="3" height="3" fill="#000"/>
<rect x="90.38" y="355" width="3" height="3" fill="#000"/>
<rect x="98.5" y="355" width="3" height="3" fill="#000"/>
<rect x="106.62" y="353.94" width="3" height="3" fill="#000"/>
<rect x="114.75" y="352.35" width="3" height="3" fill="#000"/>
<rect x="122.88" y="349.96" width="3" height="3" fill="#000"/>
<rect x="131" y="346.12" width="3" height="3" fill="#000"/>
<rect x="139.12" y="341.22" width="3" height="3" fill="#000"/>
<rect x="147.25" y="333.93" width="3" height="3" fill="#000"/>
<rect x="155.38" y="325.19" width="3" height="3" fill="#000"/>
<rect x="163.5" y="315.38" width="3" height="3" fill="#000"/>
<rect x="171.62" y="303.46" width="3" height="3" fill="#000"/>
<rect x="179.75" y="291.93" width="3" height="3" fill="#000"/>
<rect x="187.88" y="283.05" width="3" height="3" fill="#000"/>
<rect x="196" y="277.22" width="3" height="3" fill="#000"/>
<rect x="204.13" y="273.51" width="3" height="3" fill="#000"/>
<rect x="212.25" y="271.79" width="3" height="3" fill="#000"/>
<rect x="220.38" y="271.79" width="3" height="3" fill="#000"/>
<rect x="228.5" y="273.51" width="3" height="3" fill="#000"/>
<rect x="66" y="355" width="3" height="3" fill="#000"/>
<rect x="74.12" y="355" width="3" height="3" fill="#000"/>
<rect x="82.25" y="355" width="3" height="3" fill="#000"/>
<rect x="90.38" y="355" width="3" height="3" fill="#000"/>
<rect x="98.5" y="355" width="3" height="3" fill="#000"/>
<rect x="106.62" y="355" width="3" height="3" fill="#000"/>
<rect x="114.75" y="355" width="3" height="3" fill="#000"/>
<rect x="122.88" y="355" width="3" height="3" fill="#000"/>
<rect x="131" y="354.34" width="3" height="3" fill="#000"/>
<rect x="139.12" y="353.41" width="3" height="3" fill="#000"/>
<rect x="147.25" y="352.62" width="3" height="3" fill="#000"/>
<rect x="155.38" y="350.89" width="3" height="3" fill="#000"/>
<rect x="163.5" y="347.31" width="3" height="3" fill="#000"/>
<rect x="171.62" y="342.15" width="3" height="3" fill="#000"/>
<rect x="179.75" y="333.93" width="3" height="3" fill="#000"/>
<rect x="187.88" y="323.46" width="3" height="3" fill="#000"/>
<rect x="196" y="311.81" width="3" height="3" fill="#000"/>
<rect x="204.13" y="299.62" width="3" height="3" fill="#000"/>
<rect x="212.25" y="289.01" width="3" height="3" fill="#000"/>
<rect x="220.38" y="280.93" width="3" height="3" fill="#000"/>
<rect x="228.5" y="273.51" width="3" height="3" fill="#000"/>
<line x1="64.5" y1="238.5" x2="81.2" y2="238.5" stroke="#666" stroke-width="0.7" />
<rect x="71.62" y="237.12" width="2.75" height="2.75" fill="#fff" stroke="#333" stroke-width="0.65"/>
<line x1="64.5" y1="248.5" x2="81.2" y2="248.5" stroke="#666" stroke-width="0.7" />
<rect x="71.5" y="247" width="3" height="3" fill="#000"/>
<text x="85" y="241.3" font-size="9.2" font-weight="normal" fill="#000" stroke="#000" text-anchor="start" textLength="21.7" lengthAdjust="spacingAndGlyphs" >Light</text>
<text x="85" y="251.3" font-size="9.2" font-weight="normal" fill="#000" stroke="#000" text-anchor="start" textLength="19.5" lengthAdjust="spacingAndGlyphs" >Dark</text>
<text x="66.8" y="264.8" font-size="9.6" font-weight="bold" stroke="#000" textLength="37" lengthAdjust="spacingAndGlyphs">V<tspan font-size="6" dy="1.5">d</tspan><tspan dy="-1.5"> =-0.5V</tspan></text>
<line x1="355.5" y1="370.5" x2="355.5" y2="373.3" stroke="#555" stroke-width="0.8" />
<line x1="371.8" y1="370.5" x2="371.8" y2="372.1" stroke="#555" stroke-width="0.8" />
<line x1="388.1" y1="370.5" x2="388.1" y2="373.3" stroke="#555" stroke-width="0.8" />
<line x1="404.4" y1="370.5" x2="404.4" y2="372.1" stroke="#555" stroke-width="0.8" />
<line x1="420.7" y1="370.5" x2="420.7" y2="373.3" stroke="#555" stroke-width="0.8" />
<line x1="437" y1="370.5" x2="437" y2="372.1" stroke="#555" stroke-width="0.8" />
<line x1="453.3" y1="370.5" x2="453.3" y2="373.3" stroke="#555" stroke-width="0.8" />
<line x1="469.6" y1="370.5" x2="469.6" y2="372.1" stroke="#555" stroke-width="0.8" />
<line x1="485.9" y1="370.5" x2="485.9" y2="373.3" stroke="#555" stroke-width="0.8" />
<line x1="502.2" y1="370.5" x2="502.2" y2="372.1" stroke="#555" stroke-width="0.8" />
<line x1="518.5" y1="370.5" x2="518.5" y2="373.3" stroke="#555" stroke-width="0.8" />
<line x1="339.5" y1="369.5" x2="342.5" y2="369.5" stroke="#555" stroke-width="0.8" />
<line x1="339.5" y1="358.31" x2="341.1" y2="358.31" stroke="#555" stroke-width="0.8" />
<line x1="339.5" y1="347.12" x2="342.5" y2="347.12" stroke="#555" stroke-width="0.8" />
<line x1="339.5" y1="335.94" x2="341.1" y2="335.94" stroke="#555" stroke-width="0.8" />
<line x1="339.5" y1="324.75" x2="342.5" y2="324.75" stroke="#555" stroke-width="0.8" />
<line x1="339.5" y1="313.56" x2="341.1" y2="313.56" stroke="#555" stroke-width="0.8" />
<line x1="339.5" y1="302.38" x2="342.5" y2="302.38" stroke="#555" stroke-width="0.8" />
<line x1="339.5" y1="291.19" x2="341.1" y2="291.19" stroke="#555" stroke-width="0.8" />
<line x1="339.5" y1="280" x2="342.5" y2="280" stroke="#555" stroke-width="0.8" />
<line x1="339.5" y1="268.81" x2="341.1" y2="268.81" stroke="#555" stroke-width="0.8" />
<line x1="339.5" y1="257.62" x2="342.5" y2="257.62" stroke="#555" stroke-width="0.8" />
<line x1="339.5" y1="246.44" x2="341.1" y2="246.44" stroke="#555" stroke-width="0.8" />
<line x1="339.5" y1="235.25" x2="342.5" y2="235.25" stroke="#555" stroke-width="0.8" />
<line x1="339.5" y1="224.06" x2="341.1" y2="224.06" stroke="#555" stroke-width="0.8" />
<rect x="339.5" y="223.5" width="195" height="147" fill="none" stroke="#555" stroke-width="1"/>
<text x="355.5" y="380.7" font-size="7" font-weight="bold" fill="#000" stroke="#000" text-anchor="middle" textLength="11" lengthAdjust="spacingAndGlyphs" >0.0</text>
<text x="388.1" y="380.7" font-size="7" font-weight="bold" fill="#000" stroke="#000" text-anchor="middle" textLength="14.3" lengthAdjust="spacingAndGlyphs" >-0.2</text>
<text x="420.7" y="380.7" font-size="7" font-weight="bold" fill="#000" stroke="#000" text-anchor="middle" textLength="14.3" lengthAdjust="spacingAndGlyphs" >-0.4</text>
<text x="453.3" y="380.7" font-size="7" font-weight="bold" fill="#000" stroke="#000" text-anchor="middle" textLength="14.3" lengthAdjust="spacingAndGlyphs" >-0.6</text>
<text x="485.9" y="380.7" font-size="7" font-weight="bold" fill="#000" stroke="#000" text-anchor="middle" textLength="14.3" lengthAdjust="spacingAndGlyphs" >-0.8</text>
<text x="518.5" y="380.7" font-size="7" font-weight="bold" fill="#000" stroke="#000" text-anchor="middle" textLength="14.3" lengthAdjust="spacingAndGlyphs" >-1.0</text>
<text x="335.8" y="371.4" font-size="7" font-weight="bold" fill="#000" stroke="#000" text-anchor="end" textLength="26.9" lengthAdjust="spacingAndGlyphs" >-0.0020</text>
<text x="335.8" y="349.02" font-size="7" font-weight="bold" fill="#000" stroke="#000" text-anchor="end" textLength="26.9" lengthAdjust="spacingAndGlyphs" >-0.0015</text>
<text x="335.8" y="326.65" font-size="7" font-weight="bold" fill="#000" stroke="#000" text-anchor="end" textLength="26.9" lengthAdjust="spacingAndGlyphs" >-0.0010</text>
<text x="335.8" y="304.27" font-size="7" font-weight="bold" fill="#000" stroke="#000" text-anchor="end" textLength="26.9" lengthAdjust="spacingAndGlyphs" >-0.0005</text>
<text x="335.8" y="281.9" font-size="7" font-weight="bold" fill="#000" stroke="#000" text-anchor="end" textLength="24.6" lengthAdjust="spacingAndGlyphs" >0.0000</text>
<text x="335.8" y="259.52" font-size="7" font-weight="bold" fill="#000" stroke="#000" text-anchor="end" textLength="24.6" lengthAdjust="spacingAndGlyphs" >0.0005</text>
<text x="335.8" y="237.15" font-size="7" font-weight="bold" fill="#000" stroke="#000" text-anchor="end" textLength="24.6" lengthAdjust="spacingAndGlyphs" >0.0010</text>
<text transform="translate(302,318.2) rotate(-90)" font-size="9.4" font-weight="bold" stroke="#000" textLength="29.6" lengthAdjust="spacingAndGlyphs">I<tspan font-size="7.4" dy="2.2">g</tspan><tspan dy="-2.2"> (mA)</tspan></text>
<text x="424.8" y="395" font-size="9.5" font-weight="bold" stroke="#000" textLength="24.2" lengthAdjust="spacingAndGlyphs">V<tspan font-size="7.8" dy="2.4">g</tspan><tspan dy="-2.4"> (v)</tspan></text>
<polyline points="355.5,268 363.65,265.5 371.8,260 379.95,251.25 388.1,244.25 396.25,242 404.4,240.5 412.55,240.5 420.7,242 428.85,244 437,247 445.15,251.25 453.3,255.5 461.45,261.25 469.6,267.5 477.75,275 485.9,283.75 494.05,294.5 502.2,308.75 510.35,325.75 518.5,353" fill="none" stroke="#777" stroke-width="0.6" />
<polyline points="355.5,271.25 363.65,265.5 371.8,259.5 379.95,255 388.1,253.75 396.25,254.5 404.4,255.5 412.55,257 420.7,259 428.85,261.25 437,263.25 445.15,267 453.3,270 461.45,273.75 469.6,277 477.75,280.5 485.9,285.5 494.05,290.5 502.2,298.75 510.35,308.75 518.5,325" fill="none" stroke="#777" stroke-width="0.6" />
<polyline points="355.5,270.5 363.65,272.5 371.8,273 379.95,273.75 388.1,275 396.25,277.5 404.4,281.25 412.55,285 420.7,290 428.85,296.25 437,302 445.15,307 453.3,312 461.45,317 469.6,322.5 477.75,327 485.9,332 494.05,337.5 502.2,342 510.35,347 518.5,353" fill="none" stroke="#777" stroke-width="0.6" />
<polyline points="355.5,272.5 363.65,273.75 371.8,275 379.95,276.25 388.1,277.5 396.25,279.5 404.4,282 412.55,285.5 420.7,288.75 428.85,292.5 437,295.5 445.15,298.75 453.3,302.5 461.45,305.5 469.6,308.75 477.75,311.25 485.9,313.75 494.05,316.75 502.2,318.25 510.35,320.5 518.5,325" fill="none" stroke="#777" stroke-width="0.6" />
<rect x="354.02" y="266.52" width="2.95" height="2.95" fill="#fff" stroke="#333" stroke-width="0.65"/>
<rect x="362.17" y="264.02" width="2.95" height="2.95" fill="#fff" stroke="#333" stroke-width="0.65"/>
<rect x="370.32" y="258.52" width="2.95" height="2.95" fill="#fff" stroke="#333" stroke-width="0.65"/>
<rect x="378.47" y="249.77" width="2.95" height="2.95" fill="#fff" stroke="#333" stroke-width="0.65"/>
<rect x="386.62" y="242.77" width="2.95" height="2.95" fill="#fff" stroke="#333" stroke-width="0.65"/>
<rect x="394.77" y="240.52" width="2.95" height="2.95" fill="#fff" stroke="#333" stroke-width="0.65"/>
<rect x="402.92" y="239.02" width="2.95" height="2.95" fill="#fff" stroke="#333" stroke-width="0.65"/>
<rect x="411.07" y="239.02" width="2.95" height="2.95" fill="#fff" stroke="#333" stroke-width="0.65"/>
<rect x="419.22" y="240.52" width="2.95" height="2.95" fill="#fff" stroke="#333" stroke-width="0.65"/>
<rect x="427.38" y="242.52" width="2.95" height="2.95" fill="#fff" stroke="#333" stroke-width="0.65"/>
<rect x="435.52" y="245.52" width="2.95" height="2.95" fill="#fff" stroke="#333" stroke-width="0.65"/>
<rect x="443.67" y="249.77" width="2.95" height="2.95" fill="#fff" stroke="#333" stroke-width="0.65"/>
<rect x="451.82" y="254.02" width="2.95" height="2.95" fill="#fff" stroke="#333" stroke-width="0.65"/>
<rect x="459.97" y="259.77" width="2.95" height="2.95" fill="#fff" stroke="#333" stroke-width="0.65"/>
<rect x="468.12" y="266.02" width="2.95" height="2.95" fill="#fff" stroke="#333" stroke-width="0.65"/>
<rect x="476.27" y="273.52" width="2.95" height="2.95" fill="#fff" stroke="#333" stroke-width="0.65"/>
<rect x="484.42" y="282.27" width="2.95" height="2.95" fill="#fff" stroke="#333" stroke-width="0.65"/>
<rect x="492.57" y="293.02" width="2.95" height="2.95" fill="#fff" stroke="#333" stroke-width="0.65"/>
<rect x="500.73" y="307.27" width="2.95" height="2.95" fill="#fff" stroke="#333" stroke-width="0.65"/>
<rect x="508.88" y="324.27" width="2.95" height="2.95" fill="#fff" stroke="#333" stroke-width="0.65"/>
<rect x="517.03" y="351.52" width="2.95" height="2.95" fill="#fff" stroke="#333" stroke-width="0.65"/>
<rect x="354.02" y="269.02" width="2.95" height="2.95" fill="#fff" stroke="#333" stroke-width="0.65"/>
<rect x="362.17" y="271.02" width="2.95" height="2.95" fill="#fff" stroke="#333" stroke-width="0.65"/>
<rect x="370.32" y="271.52" width="2.95" height="2.95" fill="#fff" stroke="#333" stroke-width="0.65"/>
<rect x="378.47" y="272.27" width="2.95" height="2.95" fill="#fff" stroke="#333" stroke-width="0.65"/>
<rect x="386.62" y="273.52" width="2.95" height="2.95" fill="#fff" stroke="#333" stroke-width="0.65"/>
<rect x="394.77" y="276.02" width="2.95" height="2.95" fill="#fff" stroke="#333" stroke-width="0.65"/>
<rect x="402.92" y="279.77" width="2.95" height="2.95" fill="#fff" stroke="#333" stroke-width="0.65"/>
<rect x="411.07" y="283.52" width="2.95" height="2.95" fill="#fff" stroke="#333" stroke-width="0.65"/>
<rect x="419.22" y="288.52" width="2.95" height="2.95" fill="#fff" stroke="#333" stroke-width="0.65"/>
<rect x="427.38" y="294.77" width="2.95" height="2.95" fill="#fff" stroke="#333" stroke-width="0.65"/>
<rect x="435.52" y="300.52" width="2.95" height="2.95" fill="#fff" stroke="#333" stroke-width="0.65"/>
<rect x="443.67" y="305.52" width="2.95" height="2.95" fill="#fff" stroke="#333" stroke-width="0.65"/>
<rect x="451.82" y="310.52" width="2.95" height="2.95" fill="#fff" stroke="#333" stroke-width="0.65"/>
<rect x="459.97" y="315.52" width="2.95" height="2.95" fill="#fff" stroke="#333" stroke-width="0.65"/>
<rect x="468.12" y="321.02" width="2.95" height="2.95" fill="#fff" stroke="#333" stroke-width="0.65"/>
<rect x="476.27" y="325.52" width="2.95" height="2.95" fill="#fff" stroke="#333" stroke-width="0.65"/>
<rect x="484.42" y="330.52" width="2.95" height="2.95" fill="#fff" stroke="#333" stroke-width="0.65"/>
<rect x="492.57" y="336.02" width="2.95" height="2.95" fill="#fff" stroke="#333" stroke-width="0.65"/>
<rect x="500.73" y="340.52" width="2.95" height="2.95" fill="#fff" stroke="#333" stroke-width="0.65"/>
<rect x="508.88" y="345.52" width="2.95" height="2.95" fill="#fff" stroke="#333" stroke-width="0.65"/>
<rect x="517.03" y="351.52" width="2.95" height="2.95" fill="#fff" stroke="#333" stroke-width="0.65"/>
<rect x="354" y="269.75" width="3" height="3" fill="#000"/>
<rect x="362.15" y="264" width="3" height="3" fill="#000"/>
<rect x="370.3" y="258" width="3" height="3" fill="#000"/>
<rect x="378.45" y="253.5" width="3" height="3" fill="#000"/>
<rect x="386.6" y="252.25" width="3" height="3" fill="#000"/>
<rect x="394.75" y="253" width="3" height="3" fill="#000"/>
<rect x="402.9" y="254" width="3" height="3" fill="#000"/>
<rect x="411.05" y="255.5" width="3" height="3" fill="#000"/>
<rect x="419.2" y="257.5" width="3" height="3" fill="#000"/>
<rect x="427.35" y="259.75" width="3" height="3" fill="#000"/>
<rect x="435.5" y="261.75" width="3" height="3" fill="#000"/>
<rect x="443.65" y="265.5" width="3" height="3" fill="#000"/>
<rect x="451.8" y="268.5" width="3" height="3" fill="#000"/>
<rect x="459.95" y="272.25" width="3" height="3" fill="#000"/>
<rect x="468.1" y="275.5" width="3" height="3" fill="#000"/>
<rect x="476.25" y="279" width="3" height="3" fill="#000"/>
<rect x="484.4" y="284" width="3" height="3" fill="#000"/>
<rect x="492.55" y="289" width="3" height="3" fill="#000"/>
<rect x="500.7" y="297.25" width="3" height="3" fill="#000"/>
<rect x="508.85" y="307.25" width="3" height="3" fill="#000"/>
<rect x="517" y="323.5" width="3" height="3" fill="#000"/>
<rect x="354" y="271" width="3" height="3" fill="#000"/>
<rect x="362.15" y="272.25" width="3" height="3" fill="#000"/>
<rect x="370.3" y="273.5" width="3" height="3" fill="#000"/>
<rect x="378.45" y="274.75" width="3" height="3" fill="#000"/>
<rect x="386.6" y="276" width="3" height="3" fill="#000"/>
<rect x="394.75" y="278" width="3" height="3" fill="#000"/>
<rect x="402.9" y="280.5" width="3" height="3" fill="#000"/>
<rect x="411.05" y="284" width="3" height="3" fill="#000"/>
<rect x="419.2" y="287.25" width="3" height="3" fill="#000"/>
<rect x="427.35" y="291" width="3" height="3" fill="#000"/>
<rect x="435.5" y="294" width="3" height="3" fill="#000"/>
<rect x="443.65" y="297.25" width="3" height="3" fill="#000"/>
<rect x="451.8" y="301" width="3" height="3" fill="#000"/>
<rect x="459.95" y="304" width="3" height="3" fill="#000"/>
<rect x="468.1" y="307.25" width="3" height="3" fill="#000"/>
<rect x="476.25" y="309.75" width="3" height="3" fill="#000"/>
<rect x="484.4" y="312.25" width="3" height="3" fill="#000"/>
<rect x="492.55" y="315.25" width="3" height="3" fill="#000"/>
<rect x="500.7" y="316.75" width="3" height="3" fill="#000"/>
<rect x="508.85" y="319" width="3" height="3" fill="#000"/>
<rect x="517" y="323.5" width="3" height="3" fill="#000"/>
<line x1="476.5" y1="235.5" x2="494.5" y2="235.5" stroke="#666" stroke-width="0.7" />
<rect x="483.88" y="234.07" width="2.85" height="2.85" fill="#fff" stroke="#333" stroke-width="0.65"/>
<line x1="476.5" y1="246.5" x2="494.5" y2="246.5" stroke="#666" stroke-width="0.7" />
<rect x="483.9" y="245.1" width="2.8" height="2.8" fill="#000"/>
<text x="497.5" y="239.1" font-size="9.2" font-weight="normal" fill="#000" stroke="#000" text-anchor="start" textLength="21.5" lengthAdjust="spacingAndGlyphs" >Light</text>
<text x="497.5" y="249.1" font-size="9.2" font-weight="normal" fill="#000" stroke="#000" text-anchor="start" textLength="19.5" lengthAdjust="spacingAndGlyphs" >Dark</text>
<text x="484.5" y="264.6" font-size="9" font-weight="bold" stroke="#000" textLength="36.7" lengthAdjust="spacingAndGlyphs">V<tspan font-size="6" dy="1.5">d</tspan><tspan dy="-1.5"> =-0.5V</tspan></text>
<line x1="69.25" y1="578.5" x2="69.25" y2="575.7" stroke="#555" stroke-width="0.8" />
<line x1="69.25" y1="432.5" x2="69.25" y2="435.3" stroke="#555" stroke-width="0.8" />
<line x1="85.5" y1="578.5" x2="85.5" y2="576.9" stroke="#555" stroke-width="0.8" />
<line x1="85.5" y1="432.5" x2="85.5" y2="434.1" stroke="#555" stroke-width="0.8" />
<line x1="101.75" y1="578.5" x2="101.75" y2="575.7" stroke="#555" stroke-width="0.8" />
<line x1="101.75" y1="432.5" x2="101.75" y2="435.3" stroke="#555" stroke-width="0.8" />
<line x1="118" y1="578.5" x2="118" y2="576.9" stroke="#555" stroke-width="0.8" />
<line x1="118" y1="432.5" x2="118" y2="434.1" stroke="#555" stroke-width="0.8" />
<line x1="134.25" y1="578.5" x2="134.25" y2="575.7" stroke="#555" stroke-width="0.8" />
<line x1="134.25" y1="432.5" x2="134.25" y2="435.3" stroke="#555" stroke-width="0.8" />
<line x1="150.5" y1="578.5" x2="150.5" y2="576.9" stroke="#555" stroke-width="0.8" />
<line x1="150.5" y1="432.5" x2="150.5" y2="434.1" stroke="#555" stroke-width="0.8" />
<line x1="166.75" y1="578.5" x2="166.75" y2="575.7" stroke="#555" stroke-width="0.8" />
<line x1="166.75" y1="432.5" x2="166.75" y2="435.3" stroke="#555" stroke-width="0.8" />
<line x1="183" y1="578.5" x2="183" y2="576.9" stroke="#555" stroke-width="0.8" />
<line x1="183" y1="432.5" x2="183" y2="434.1" stroke="#555" stroke-width="0.8" />
<line x1="199.25" y1="578.5" x2="199.25" y2="575.7" stroke="#555" stroke-width="0.8" />
<line x1="199.25" y1="432.5" x2="199.25" y2="435.3" stroke="#555" stroke-width="0.8" />
<line x1="215.5" y1="578.5" x2="215.5" y2="576.9" stroke="#555" stroke-width="0.8" />
<line x1="215.5" y1="432.5" x2="215.5" y2="434.1" stroke="#555" stroke-width="0.8" />
<line x1="231.75" y1="578.5" x2="231.75" y2="575.7" stroke="#555" stroke-width="0.8" />
<line x1="231.75" y1="432.5" x2="231.75" y2="435.3" stroke="#555" stroke-width="0.8" />
<line x1="52.5" y1="578.6" x2="54.1" y2="578.6" stroke="#555" stroke-width="0.8" />
<line x1="52.5" y1="564" x2="55.5" y2="564" stroke="#555" stroke-width="0.8" />
<line x1="52.5" y1="549.4" x2="54.1" y2="549.4" stroke="#555" stroke-width="0.8" />
<line x1="52.5" y1="534.8" x2="55.5" y2="534.8" stroke="#555" stroke-width="0.8" />
<line x1="52.5" y1="520.2" x2="54.1" y2="520.2" stroke="#555" stroke-width="0.8" />
<line x1="52.5" y1="505.6" x2="55.5" y2="505.6" stroke="#555" stroke-width="0.8" />
<line x1="52.5" y1="491" x2="54.1" y2="491" stroke="#555" stroke-width="0.8" />
<line x1="52.5" y1="476.4" x2="55.5" y2="476.4" stroke="#555" stroke-width="0.8" />
<line x1="52.5" y1="461.8" x2="54.1" y2="461.8" stroke="#555" stroke-width="0.8" />
<line x1="52.5" y1="447.2" x2="55.5" y2="447.2" stroke="#555" stroke-width="0.8" />
<line x1="248" y1="566.75" x2="245" y2="566.75" stroke="#7070ff" stroke-width="0.8" />
<line x1="248" y1="554.5" x2="246.4" y2="554.5" stroke="#7070ff" stroke-width="0.8" />
<line x1="248" y1="542.25" x2="245" y2="542.25" stroke="#7070ff" stroke-width="0.8" />
<line x1="248" y1="530" x2="246.4" y2="530" stroke="#7070ff" stroke-width="0.8" />
<line x1="248" y1="517.75" x2="245" y2="517.75" stroke="#7070ff" stroke-width="0.8" />
<line x1="248" y1="505.5" x2="246.4" y2="505.5" stroke="#7070ff" stroke-width="0.8" />
<line x1="248" y1="493.25" x2="245" y2="493.25" stroke="#7070ff" stroke-width="0.8" />
<line x1="248" y1="481" x2="246.4" y2="481" stroke="#7070ff" stroke-width="0.8" />
<line x1="248" y1="468.75" x2="245" y2="468.75" stroke="#7070ff" stroke-width="0.8" />
<line x1="248" y1="456.5" x2="246.4" y2="456.5" stroke="#7070ff" stroke-width="0.8" />
<line x1="248" y1="444.25" x2="245" y2="444.25" stroke="#7070ff" stroke-width="0.8" />
<line x1="52.5" y1="432.5" x2="248" y2="432.5" stroke="#555" stroke-width="1" />
<line x1="52.5" y1="432" x2="52.5" y2="578.5" stroke="#777" stroke-width="1.3" />
<line x1="52.5" y1="578.9" x2="248" y2="578.9" stroke="#999" stroke-width="1.6" />
<line x1="248" y1="432.5" x2="248" y2="579.5" stroke="#8080ff" stroke-width="1.2" />
<text x="69.25" y="588.1" font-size="7" font-weight="bold" fill="#000" stroke="#000" text-anchor="middle" textLength="14.3" lengthAdjust="spacingAndGlyphs" >-0.5</text>
<text x="101.75" y="588.1" font-size="7" font-weight="bold" fill="#000" stroke="#000" text-anchor="middle" textLength="14.3" lengthAdjust="spacingAndGlyphs" >-0.6</text>
<text x="134.25" y="588.1" font-size="7" font-weight="bold" fill="#000" stroke="#000" text-anchor="middle" textLength="14.3" lengthAdjust="spacingAndGlyphs" >-0.7</text>
<text x="166.75" y="588.1" font-size="7" font-weight="bold" fill="#000" stroke="#000" text-anchor="middle" textLength="14.3" lengthAdjust="spacingAndGlyphs" >-0.8</text>
<text x="199.25" y="588.1" font-size="7" font-weight="bold" fill="#000" stroke="#000" text-anchor="middle" textLength="14.3" lengthAdjust="spacingAndGlyphs" >-0.9</text>
<text x="231.75" y="588.1" font-size="7" font-weight="bold" fill="#000" stroke="#000" text-anchor="middle" textLength="14.3" lengthAdjust="spacingAndGlyphs" >-1.0</text>
<text x="49.3" y="566.4" font-size="7" font-weight="bold" fill="#000" stroke="#000" text-anchor="end" textLength="11.5" lengthAdjust="spacingAndGlyphs" >0.0</text>
<text x="49.3" y="537.2" font-size="7" font-weight="bold" fill="#000" stroke="#000" text-anchor="end" textLength="11.5" lengthAdjust="spacingAndGlyphs" >0.1</text>
<text x="49.3" y="508" font-size="7" font-weight="bold" fill="#000" stroke="#000" text-anchor="end" textLength="11.5" lengthAdjust="spacingAndGlyphs" >0.2</text>
<text x="49.3" y="478.8" font-size="7" font-weight="bold" fill="#000" stroke="#000" text-anchor="end" textLength="11.5" lengthAdjust="spacingAndGlyphs" >0.3</text>
<text x="49.3" y="449.6" font-size="7" font-weight="bold" fill="#000" stroke="#000" text-anchor="end" textLength="11.5" lengthAdjust="spacingAndGlyphs" >0.4</text>
<text x="251.6" y="569.35" font-size="7" font-weight="bold" fill="#1f1fff" stroke="#1f1fff" text-anchor="start" textLength="5.5" lengthAdjust="spacingAndGlyphs" >0</text>
<text x="251.6" y="544.85" font-size="7" font-weight="bold" fill="#1f1fff" stroke="#1f1fff" text-anchor="start" textLength="9" lengthAdjust="spacingAndGlyphs" >20</text>
<text x="251.6" y="520.35" font-size="7" font-weight="bold" fill="#1f1fff" stroke="#1f1fff" text-anchor="start" textLength="9" lengthAdjust="spacingAndGlyphs" >40</text>
<text x="251.6" y="495.85" font-size="7" font-weight="bold" fill="#1f1fff" stroke="#1f1fff" text-anchor="start" textLength="9" lengthAdjust="spacingAndGlyphs" >60</text>
<text x="251.6" y="471.35" font-size="7" font-weight="bold" fill="#1f1fff" stroke="#1f1fff" text-anchor="start" textLength="9" lengthAdjust="spacingAndGlyphs" >80</text>
<text x="251.6" y="446.85" font-size="7" font-weight="bold" fill="#1f1fff" stroke="#1f1fff" text-anchor="start" textLength="13.3" lengthAdjust="spacingAndGlyphs" >100</text>
<text transform="translate(30.3,543.2) rotate(-90)" font-size="8.6" font-weight="bold" fill="#000" stroke="#000" text-anchor="start" textLength="64" lengthAdjust="spacingAndGlyphs" >Photosensitivity</text>
<text transform="translate(279.8,564.4) rotate(-90)" font-size="8.6" font-weight="bold" fill="#1f1fff" stroke="#1f1fff" textLength="105" lengthAdjust="spacingAndGlyphs">Photoresponsivity (AW <tspan font-size="6" dy="-3.5">-1</tspan><tspan dy="3.5">)</tspan></text>
<text x="137.4" y="602.6" font-size="9.5" font-weight="bold" stroke="#000" textLength="25.8" lengthAdjust="spacingAndGlyphs">V<tspan font-size="7.8" dy="2.4">g</tspan><tspan dy="-2.4"> (V)</tspan></text>
<polyline points="69.25,569.25 85.5,538.25 101.75,516.3 118,500.3 134.25,488.1 150.5,479.2 166.75,472.4 183,466.6 199.25,461 215.5,454 231.75,443.25" fill="none" stroke="#444" stroke-width="0.6" />
<polyline points="69.25,567.25 85.5,561.25 101.75,554.2 118,545.1 134.25,535.2 150.5,524.6 166.75,513.5 183,501.4 199.25,488.25 215.5,472.75 231.75,452.5" fill="none" stroke="#1f1fff" stroke-width="0.8" />
<rect x="67.75" y="567.75" width="3" height="3" fill="#000"/>
<rect x="84" y="536.75" width="3" height="3" fill="#000"/>
<rect x="100.25" y="514.8" width="3" height="3" fill="#000"/>
<rect x="116.5" y="498.8" width="3" height="3" fill="#000"/>
<rect x="132.75" y="486.6" width="3" height="3" fill="#000"/>
<rect x="149" y="477.7" width="3" height="3" fill="#000"/>
<rect x="165.25" y="470.9" width="3" height="3" fill="#000"/>
<rect x="181.5" y="465.1" width="3" height="3" fill="#000"/>
<rect x="197.75" y="459.5" width="3" height="3" fill="#000"/>
<rect x="214" y="452.5" width="3" height="3" fill="#000"/>
<rect x="230.25" y="441.75" width="3" height="3" fill="#000"/>
<rect x="67.75" y="565.75" width="3" height="3" fill="#1f1fff"/>
<rect x="84" y="559.75" width="3" height="3" fill="#1f1fff"/>
<rect x="100.25" y="552.7" width="3" height="3" fill="#1f1fff"/>
<rect x="116.5" y="543.6" width="3" height="3" fill="#1f1fff"/>
<rect x="132.75" y="533.7" width="3" height="3" fill="#1f1fff"/>
<rect x="149" y="523.1" width="3" height="3" fill="#1f1fff"/>
<rect x="165.25" y="512" width="3" height="3" fill="#1f1fff"/>
<rect x="181.5" y="499.9" width="3" height="3" fill="#1f1fff"/>
<rect x="197.75" y="486.75" width="3" height="3" fill="#1f1fff"/>
<rect x="214" y="471.25" width="3" height="3" fill="#1f1fff"/>
<rect x="230.25" y="451" width="3" height="3" fill="#1f1fff"/>
<line x1="119" y1="475.3" x2="138.6" y2="475.3" stroke="#000" stroke-width="2" />
<polygon points="115,475.3 122,472.3 121,475.3 122,478.3" fill="#000" stroke="none" stroke-width="0" />
<line x1="172.5" y1="522.7" x2="192.5" y2="522.7" stroke="#1f1fff" stroke-width="1.7" />
<polygon points="196.8,522.7 190.5,520 191.5,522.7 190.5,525.4" fill="#1f1fff" stroke="none" stroke-width="0" />
<line x1="338.7" y1="575.5" x2="338.7" y2="572.7" stroke="#555" stroke-width="0.8" />
<line x1="348.44" y1="575.5" x2="348.44" y2="573.9" stroke="#555" stroke-width="0.8" />
<line x1="358.18" y1="575.5" x2="358.18" y2="572.7" stroke="#555" stroke-width="0.8" />
<line x1="367.92" y1="575.5" x2="367.92" y2="573.9" stroke="#555" stroke-width="0.8" />
<line x1="377.66" y1="575.5" x2="377.66" y2="572.7" stroke="#555" stroke-width="0.8" />
<line x1="387.4" y1="575.5" x2="387.4" y2="573.9" stroke="#555" stroke-width="0.8" />
<line x1="397.14" y1="575.5" x2="397.14" y2="572.7" stroke="#555" stroke-width="0.8" />
<line x1="406.88" y1="575.5" x2="406.88" y2="573.9" stroke="#555" stroke-width="0.8" />
<line x1="416.62" y1="575.5" x2="416.62" y2="572.7" stroke="#555" stroke-width="0.8" />
<line x1="426.36" y1="575.5" x2="426.36" y2="573.9" stroke="#555" stroke-width="0.8" />
<line x1="436.1" y1="575.5" x2="436.1" y2="572.7" stroke="#555" stroke-width="0.8" />
<line x1="445.84" y1="575.5" x2="445.84" y2="573.9" stroke="#555" stroke-width="0.8" />
<line x1="455.58" y1="575.5" x2="455.58" y2="572.7" stroke="#555" stroke-width="0.8" />
<line x1="465.32" y1="575.5" x2="465.32" y2="573.9" stroke="#555" stroke-width="0.8" />
<line x1="475.06" y1="575.5" x2="475.06" y2="572.7" stroke="#555" stroke-width="0.8" />
<line x1="484.8" y1="575.5" x2="484.8" y2="573.9" stroke="#555" stroke-width="0.8" />
<line x1="494.54" y1="575.5" x2="494.54" y2="572.7" stroke="#555" stroke-width="0.8" />
<line x1="504.28" y1="575.5" x2="504.28" y2="573.9" stroke="#555" stroke-width="0.8" />
<line x1="514.02" y1="575.5" x2="514.02" y2="572.7" stroke="#555" stroke-width="0.8" />
<line x1="523.76" y1="575.5" x2="523.76" y2="573.9" stroke="#555" stroke-width="0.8" />
<line x1="533.5" y1="575.5" x2="533.5" y2="572.7" stroke="#555" stroke-width="0.8" />
<line x1="338.5" y1="575.04" x2="340.1" y2="575.04" stroke="#555" stroke-width="0.8" />
<line x1="338.5" y1="566.9" x2="341.5" y2="566.9" stroke="#555" stroke-width="0.8" />
<line x1="338.5" y1="558.76" x2="340.1" y2="558.76" stroke="#555" stroke-width="0.8" />
<line x1="338.5" y1="550.62" x2="341.5" y2="550.62" stroke="#555" stroke-width="0.8" />
<line x1="338.5" y1="542.48" x2="340.1" y2="542.48" stroke="#555" stroke-width="0.8" />
<line x1="338.5" y1="534.34" x2="341.5" y2="534.34" stroke="#555" stroke-width="0.8" />
<line x1="338.5" y1="526.2" x2="340.1" y2="526.2" stroke="#555" stroke-width="0.8" />
<line x1="338.5" y1="518.06" x2="341.5" y2="518.06" stroke="#555" stroke-width="0.8" />
<line x1="338.5" y1="509.92" x2="340.1" y2="509.92" stroke="#555" stroke-width="0.8" />
<line x1="338.5" y1="501.78" x2="341.5" y2="501.78" stroke="#555" stroke-width="0.8" />
<line x1="338.5" y1="493.64" x2="340.1" y2="493.64" stroke="#555" stroke-width="0.8" />
<line x1="338.5" y1="485.5" x2="341.5" y2="485.5" stroke="#555" stroke-width="0.8" />
<line x1="338.5" y1="477.36" x2="340.1" y2="477.36" stroke="#555" stroke-width="0.8" />
<line x1="338.5" y1="469.22" x2="341.5" y2="469.22" stroke="#555" stroke-width="0.8" />
<line x1="338.5" y1="461.08" x2="340.1" y2="461.08" stroke="#555" stroke-width="0.8" />
<line x1="338.5" y1="452.94" x2="341.5" y2="452.94" stroke="#555" stroke-width="0.8" />
<line x1="338.5" y1="444.8" x2="340.1" y2="444.8" stroke="#555" stroke-width="0.8" />
<line x1="338.5" y1="436.66" x2="341.5" y2="436.66" stroke="#555" stroke-width="0.8" />
<rect x="338.5" y="428.5" width="195" height="147" fill="none" stroke="#555" stroke-width="1"/>
<text x="338.7" y="584.3" font-size="7" font-weight="bold" fill="#000" stroke="#000" text-anchor="middle" textLength="4.4" lengthAdjust="spacingAndGlyphs" >0</text>
<text x="358.18" y="584.3" font-size="7" font-weight="bold" fill="#000" stroke="#000" text-anchor="middle" textLength="13.2" lengthAdjust="spacingAndGlyphs" >200</text>
<text x="377.66" y="584.3" font-size="7" font-weight="bold" fill="#000" stroke="#000" text-anchor="middle" textLength="13.2" lengthAdjust="spacingAndGlyphs" >400</text>
<text x="397.14" y="584.3" font-size="7" font-weight="bold" fill="#000" stroke="#000" text-anchor="middle" textLength="13.2" lengthAdjust="spacingAndGlyphs" >600</text>
<text x="416.62" y="584.3" font-size="7" font-weight="bold" fill="#000" stroke="#000" text-anchor="middle" textLength="13.2" lengthAdjust="spacingAndGlyphs" >800</text>
<text x="436.1" y="584.3" font-size="7" font-weight="bold" fill="#000" stroke="#000" text-anchor="middle" textLength="17.6" lengthAdjust="spacingAndGlyphs" >1000</text>
<text x="455.58" y="584.3" font-size="7" font-weight="bold" fill="#000" stroke="#000" text-anchor="middle" textLength="17.6" lengthAdjust="spacingAndGlyphs" >1200</text>
<text x="475.06" y="584.3" font-size="7" font-weight="bold" fill="#000" stroke="#000" text-anchor="middle" textLength="17.6" lengthAdjust="spacingAndGlyphs" >1400</text>
<text x="494.54" y="584.3" font-size="7" font-weight="bold" fill="#000" stroke="#000" text-anchor="middle" textLength="17.6" lengthAdjust="spacingAndGlyphs" >1600</text>
<text x="514.02" y="584.3" font-size="7" font-weight="bold" fill="#000" stroke="#000" text-anchor="middle" textLength="17.6" lengthAdjust="spacingAndGlyphs" >1800</text>
<text x="533.5" y="584.3" font-size="7" font-weight="bold" fill="#000" stroke="#000" text-anchor="middle" textLength="17.6" lengthAdjust="spacingAndGlyphs" >2000</text>
<text x="335.7" y="568.6" font-size="7" font-weight="bold" fill="#000" stroke="#000" text-anchor="end" textLength="20.5" lengthAdjust="spacingAndGlyphs" >0.000</text>
<text x="335.7" y="552.32" font-size="7" font-weight="bold" fill="#000" stroke="#000" text-anchor="end" textLength="22.8" lengthAdjust="spacingAndGlyphs" >-0.002</text>
<text x="335.7" y="536.04" font-size="7" font-weight="bold" fill="#000" stroke="#000" text-anchor="end" textLength="22.8" lengthAdjust="spacingAndGlyphs" >-0.004</text>
<text x="335.7" y="519.76" font-size="7" font-weight="bold" fill="#000" stroke="#000" text-anchor="end" textLength="22.8" lengthAdjust="spacingAndGlyphs" >-0.006</text>
<text x="335.7" y="503.48" font-size="7" font-weight="bold" fill="#000" stroke="#000" text-anchor="end" textLength="22.8" lengthAdjust="spacingAndGlyphs" >-0.008</text>
<text x="335.7" y="487.2" font-size="7" font-weight="bold" fill="#000" stroke="#000" text-anchor="end" textLength="22.8" lengthAdjust="spacingAndGlyphs" >-0.010</text>
<text x="335.7" y="470.92" font-size="7" font-weight="bold" fill="#000" stroke="#000" text-anchor="end" textLength="22.8" lengthAdjust="spacingAndGlyphs" >-0.012</text>
<text x="335.7" y="454.64" font-size="7" font-weight="bold" fill="#000" stroke="#000" text-anchor="end" textLength="22.8" lengthAdjust="spacingAndGlyphs" >-0.014</text>
<text x="335.7" y="438.36" font-size="7" font-weight="bold" fill="#000" stroke="#000" text-anchor="end" textLength="22.8" lengthAdjust="spacingAndGlyphs" >-0.016</text>
<text transform="translate(305.5,522.8) rotate(-90)" font-size="9.4" font-weight="bold" stroke="#000" textLength="29.4" lengthAdjust="spacingAndGlyphs">I<tspan font-size="7.4" dy="2.2">d</tspan><tspan dy="-2.2"> (mA)</tspan></text>
<text x="419.3" y="598.8" font-size="8.6" font-weight="bold" fill="#000" stroke="#000" text-anchor="start" textLength="34" lengthAdjust="spacingAndGlyphs" >Time (s)</text>
<polyline points="339.9,566 340.1,552 340.3,536" fill="none" stroke="#000" stroke-width="2.2" stroke-dasharray="2.5,0.7"/>
<polyline points="340.3,536 340.4,528 340.9,520 342,514 343.5,510.5 345.5,508.2 348,506.4 352,504.6 356.1,503.6 362,502.5 369.3,501.5 369.49,499.89 369.88,496.84 370.41,493.09 371.05,489.08 371.8,485.11 372.65,481.38 373.59,478.03 374.61,475.11 375.71,472.65 376.89,470.62 378.14,469 379.46,467.72 380.85,466.74 382.3,466 382.44,467.88 382.74,471.3 383.13,475.18 383.62,478.95 384.19,482.27 384.83,485.01 385.53,487.13 386.3,488.7 387.13,489.82 388.02,490.58 388.96,491.07 389.96,491.39 391,491.58 392.1,491.7 392.29,490.28 392.69,487.57 393.22,484.26 393.88,480.71 394.64,477.2 395.5,473.9 396.45,470.94 397.49,468.36 398.61,466.18 399.8,464.39 401.07,462.95 402.41,461.82 403.82,460.96 405.3,460.3 405.43,462.16 405.71,465.55 406.08,469.45 406.54,473.29 407.07,476.74 407.67,479.63 408.33,481.92 409.06,483.66 409.84,484.92 410.67,485.81 411.55,486.41 412.49,486.8 413.47,487.05 414.5,487.2 414.7,485.79 415.1,483.1 415.66,479.81 416.33,476.28 417.12,472.79 418.01,469.52 418.99,466.57 420.05,464.01 421.21,461.84 422.44,460.06 423.75,458.64 425.13,457.51 426.58,456.65 428.1,456 428.26,458.35 428.59,462.56 429.04,467.23 429.6,471.63 430.24,475.37 430.96,478.32 431.76,480.51 432.63,482.05 433.57,483.07 434.58,483.74 435.65,484.14 436.77,484.38 437.96,484.52 439.2,484.6 439.39,483.12 439.78,480.32 440.31,476.88 440.95,473.19 441.7,469.55 442.55,466.12 443.49,463.04 444.51,460.37 445.61,458.11 446.79,456.25 448.04,454.75 449.36,453.58 450.75,452.68 452.2,452 452.35,454.19 452.65,458.13 453.06,462.6 453.56,466.9 454.14,470.67 454.8,473.74 455.53,476.1 456.33,477.82 457.18,479.02 458.1,479.83 459.07,480.36 460.09,480.69 461.17,480.88 462.3,481 462.5,479.51 462.89,476.66 463.43,473.18 464.09,469.45 464.86,465.76 465.73,462.3 466.69,459.18 467.73,456.47 468.86,454.18 470.06,452.3 471.34,450.79 472.69,449.6 474.11,448.69 475.6,448 475.76,450.6 476.1,455.23 476.55,460.37 477.11,465.2 477.76,469.3 478.49,472.52 479.29,474.9 480.17,476.56 481.12,477.67 482.14,478.38 483.21,478.82 484.35,479.07 485.55,479.22 486.8,479.3 487.01,477.75 487.44,474.79 488.03,471.17 488.75,467.3 489.59,463.46 490.54,459.86 491.58,456.62 492.72,453.8 493.95,451.42 495.26,449.47 496.66,447.9 498.13,446.67 499.68,445.72 501.3,445 501.48,447.79 501.85,452.71 502.35,458.06 502.96,462.95 503.67,466.98 504.47,470.03 505.36,472.2 506.32,473.66 507.37,474.58 508.48,475.14 509.66,475.47 510.91,475.65 512.22,475.75 513.6,475.8" fill="none" stroke="#000" stroke-width="4.6" stroke-linejoin="round" stroke-linecap="round"/>
<text x="360.5" y="459.5" font-size="11" font-weight="normal" fill="#000" stroke="#000" text-anchor="start" textLength="24.5" lengthAdjust="spacingAndGlyphs" >Light</text>
<text x="381.7" y="505.8" font-size="11" font-weight="normal" fill="#000" stroke="#000" text-anchor="start" textLength="23.8" lengthAdjust="spacingAndGlyphs" >Dark</text>
</svg></body></html>
